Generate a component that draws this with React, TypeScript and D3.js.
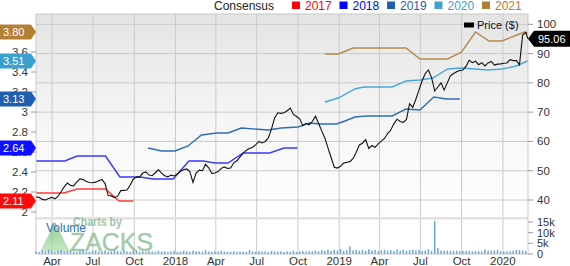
import React from "react";
import * as d3 from "d3";

const W = 570;
const H = 266;

// weekly closing prices starting 2017-02-24
const priceStart = "2017-02-24";
const priceWeekly = [
  41.0, 40.9, 40.2, 40.0, 40.5, 40.9, 40.4, 41.2, 42.8, 44.5,
  45.8, 45.0, 44.8, 46.2, 47.2, 47.0, 46.3, 46.0, 45.9, 46.1,
  46.6, 47.0, 45.6, 41.5, 41.4, 40.8, 41.3, 43.2, 43.3, 43.4,
  45.1, 47.1, 47.9, 47.8, 49.2, 49.6, 48.5, 48.3, 49.3, 50.3,
  49.2, 48.3, 47.9, 48.5, 48.2, 48.9, 49.8, 50.3, 50.6, 49.7,
  46.0, 49.2, 50.2, 50.0, 52.2, 51.0, 49.1, 49.2, 49.7, 50.8,
  51.3, 50.8, 50.9, 52.7, 53.4, 54.7, 56.0, 57.0, 57.6, 58.0,
  58.9, 60.0, 59.5, 60.0, 61.2, 64.2, 68.0, 69.8, 69.6, 69.8,
  70.5, 71.4, 69.2, 68.5, 67.7, 65.4, 66.2, 65.7, 66.8, 68.6,
  66.2, 63.6, 61.2, 57.8, 54.5, 51.2, 50.9, 51.5, 52.6, 52.9,
  53.1, 54.2, 56.3, 58.8, 59.4, 60.6, 57.6, 58.6, 58.0, 59.2,
  60.1, 61.0, 62.7, 63.9, 66.0, 67.6, 66.8, 66.5, 67.5, 72.9,
  71.6, 74.4, 77.6, 80.7, 83.2, 84.4, 81.8, 77.2, 78.6, 80.0,
  77.5, 80.0, 82.4, 83.2, 83.8, 84.2, 84.4, 85.7, 87.7, 86.9,
  87.4, 86.2, 86.9, 85.8, 86.8, 87.3, 86.1, 86.4, 86.5, 86.7,
  86.8, 87.9, 87.6, 87.6, 86.2, 96.3, 97.2,
];
const priceLastDate = "2020-02-26";
const priceLastValue = 95.06;

// weekly volume (thousands), same weeks as prices
const volumeWeekly = [
  1.3, 0.9, 1.6, 1.1, 1.9, 1.2, 0.9, 1.5, 1.8, 1.0,
  1.4, 1.7, 1.1, 1.0, 1.6, 1.9, 1.2, 1.0, 1.5, 1.8,
  1.1, 1.3, 1.7, 1.0, 1.2, 1.9, 1.4, 1.1, 1.6, 1.2,
  1.0, 1.5, 1.8, 1.1, 1.3, 1.0, 1.4, 1.2, 1.0, 1.6,
  1.1, 1.3, 1.0, 1.2, 1.5, 1.0, 1.1, 1.4, 1.2, 1.0,
  1.6, 1.3, 1.1, 1.0, 1.8, 1.2, 1.0, 1.3, 1.1, 1.4,
  1.2, 1.0, 1.1, 1.3, 1.0, 1.2, 1.1, 1.0, 1.9, 1.2,
  1.1, 1.3, 1.0, 1.2, 1.0, 1.4, 1.2, 1.1, 1.3, 1.0,
  1.2, 1.1, 1.5, 1.0, 1.2, 1.3, 1.1, 1.4, 1.2, 1.6,
  1.3, 1.8, 1.5, 2.1, 1.4, 1.9, 1.6, 2.3, 1.5, 1.8,
  3.6, 1.7, 2.0, 1.5, 1.8, 1.4, 2.2, 1.6, 1.9, 1.3,
  1.7, 2.0, 1.5, 1.8, 1.4, 2.2, 1.6, 2.1, 1.5, 1.8,
  2.0, 1.6, 1.9, 1.4, 1.7, 2.3, 1.5, 15.5, 2.8, 1.6,
  1.5, 1.6, 1.4, 1.5, 1.6, 1.3, 1.5, 1.4, 1.3, 1.2,
  1.4, 1.3, 1.2, 2.2, 1.6, 1.5, 1.7, 1.9, 1.3, 1.2,
  1.2, 1.3, 1.5, 2.0, 1.9, 1.6, 1.4,
];

// consensus EPS estimates per fiscal year
const eps2017: [string, number][] = [
  ["2017-02-25", 2.19], ["2017-04-27", 2.19], ["2017-05-27", 2.23],
  ["2017-07-29", 2.23], ["2017-08-28", 2.11], ["2017-09-29", 2.11],
];
const eps2018: [string, number][] = [
  ["2017-02-25", 2.51], ["2017-04-29", 2.51], ["2017-05-27", 2.56],
  ["2017-07-29", 2.56], ["2017-08-30", 2.35], ["2017-10-14", 2.35],
  ["2017-11-12", 2.33], ["2017-12-27", 2.33], ["2018-01-31", 2.51],
  ["2018-03-04", 2.51], ["2018-03-30", 2.49], ["2018-04-28", 2.49],
  ["2018-06-01", 2.59], ["2018-07-30", 2.59], ["2018-08-31", 2.64],
  ["2018-09-30", 2.64],
];
const eps2019: [string, number][] = [
  ["2017-11-01", 2.64], ["2017-12-01", 2.61], ["2017-12-31", 2.61],
  ["2018-01-29", 2.66], ["2018-02-28", 2.77], ["2018-04-03", 2.79],
  ["2018-04-28", 2.79], ["2018-05-28", 2.84], ["2018-07-27", 2.82],
  ["2018-08-25", 2.84], ["2018-10-01", 2.85], ["2018-10-27", 2.89],
  ["2018-11-19", 2.88], ["2018-12-26", 2.88], ["2019-01-14", 2.91],
  ["2019-02-05", 2.95], ["2019-03-03", 2.96], ["2019-04-29", 2.96],
  ["2019-05-30", 3.03], ["2019-06-30", 3.02], ["2019-07-31", 3.15],
  ["2019-08-28", 3.13], ["2019-09-27", 3.13],
];
const eps2020: [string, number][] = [
  ["2018-11-30", 3.10], ["2018-12-30", 3.14], ["2019-02-05", 3.23],
  ["2019-02-24", 3.25], ["2019-04-29", 3.25], ["2019-05-30", 3.31],
  ["2019-06-30", 3.32], ["2019-07-29", 3.34], ["2019-08-31", 3.43],
  ["2019-10-01", 3.44], ["2019-11-28", 3.42], ["2019-12-31", 3.43],
  ["2020-01-31", 3.46], ["2020-02-25", 3.51],
];
const eps2021: [string, number][] = [
  ["2018-11-30", 3.58], ["2018-12-30", 3.58], ["2019-02-01", 3.64],
  ["2019-05-30", 3.64], ["2019-06-30", 3.53], ["2019-08-31", 3.53],
  ["2019-10-01", 3.60], ["2019-11-01", 3.80], ["2019-12-01", 3.71],
  ["2019-12-30", 3.71], ["2020-02-07", 3.78], ["2020-02-18", 3.80],
  ["2020-02-25", 3.79],
];

const legendYears = ["2017", "2018", "2019", "2020", "2021"];
const badgeValues = [3.80, 3.51, 3.13, 2.64, 2.11];
const epsTicks = [2, 2.2, 2.4, 2.6, 2.8, 3, 3.2, 3.4, 3.6, 3.8];
const priceTicks = [40, 50, 60, 70, 80, 90, 100];
const volumeTicks = [0, 5, 10, 15];

const legendColors = ["#ff0000", "#0000ff", "#1f5fab", "#3ea2d4", "#b07d35"];
const lineColors = ["#ff3c3c", "#3a3aff", "#2e6db6", "#4aa8d8", "#b8894c"];
const badgeColors = ["#b57f36", "#3aa0d0", "#1f5fae", "#0d0dff", "#ff0a0a"];

const FONT = "'Liberation Sans', Arial, Helvetica, sans-serif";

export default function App() {
  const parse = d3.timeParse("%Y-%m-%d");
  const left = 36, right = 528, top = 14, priceBottom = 217, volBottom = 254;

  const x = d3.scaleTime()
    .domain([parse("2017-02-24") as Date, parse("2020-02-26") as Date])
    .range([left, right]);
  const yP = d3.scaleLinear().domain([40, 100]).range([200, 24.3]);
  const yE = d3.scaleLinear().domain([2, 3.8]).range([212, 32]);
  const yV = d3.scaleLinear().domain([0, 15]).range([volBottom, 222]);

  const start = parse(priceStart) as Date;
  type P = { d: Date; v: number };
  const priceData: P[] = priceWeekly.map((v, i) => ({ d: d3.timeDay.offset(start, 7 * i), v }));
  priceData.push({ d: parse(priceLastDate) as Date, v: priceLastValue });
  const volData: P[] = volumeWeekly.map((v, i) => ({ d: d3.timeDay.offset(start, 7 * i), v }));

  const priceLine = d3.line<P>().x((p) => x(p.d)).y((p) => yP(p.v));
  const epsLine = d3.line<[string, number]>()
    .x((p) => x(parse(p[0]) as Date))
    .y((p) => yE(p[1]));

  const epsSeries = [eps2017, eps2018, eps2019, eps2020, eps2021];
  const quarterTicks = x.ticks(d3.timeMonth.every(3) as d3.TimeInterval);
  const fmtMonth = d3.timeFormat("%b");
  const fmtYear = d3.timeFormat("%Y");

  const legendX0 = 292;
  const legendStep = 47.5;

  return (
    <svg width={W} height={H} style={{ position: "absolute", left: 0, top: 0, background: "#fff" }}
      fontFamily={FONT}>
      <defs>
        <linearGradient id="plotbg" gradientUnits="userSpaceOnUse" x1={0} y1={top} x2={0} y2={priceBottom}>
          <stop offset="0" stopColor="#e4e4e4" />
          <stop offset="0.55" stopColor="#f6f6f6" />
          <stop offset="1" stopColor="#ffffff" />
        </linearGradient>
        <linearGradient id="tri" x1="0" y1="0" x2="0" y2="1">
          <stop offset="0" stopColor="#4fb34f" />
          <stop offset="1" stopColor="#a6d8a0" />
        </linearGradient>
      </defs>

      {/* plot background */}
      <rect x={left} y={top} width={right - left} height={priceBottom - top} fill="url(#plotbg)" />

      {/* horizontal gridlines (price) */}
      {priceTicks.map((t) => (
        <line key={"hg" + t} x1={left} x2={right} y1={yP(t)} y2={yP(t)} stroke="#cacaca" strokeWidth={1} />
      ))}
      {/* vertical gridlines */}
      {quarterTicks.map((t) => (
        <line key={"vg" + t.getTime()} x1={x(t)} x2={x(t)} y1={top} y2={volBottom} stroke="#cacaca" strokeWidth={1} />
      ))}
      {/* separator between price and volume */}
      <rect x={left} y={priceBottom} width={right - left} height={2.5} fill="#e2e2e2" />

      {/* border */}
      <line x1={left} x2={right} y1={top} y2={top} stroke="#c8c8c8" />
      <line x1={left} x2={left} y1={top} y2={volBottom} stroke="#c8c8c8" />
      <line x1={right} x2={right} y1={top} y2={volBottom} stroke="#c8c8c8" />
      <line x1={left} x2={right} y1={volBottom} y2={volBottom} stroke="#c8c8c8" />

      {/* watermark */}
      <g opacity={0.6}>
        <polygon points="40,252 55,222 70,252" fill="url(#tri)" />
        <text x={73} y={226} fontSize={12.5} fontWeight="bold" fill="#5f9f6c" textLength={49} lengthAdjust="spacingAndGlyphs">Charts by</text>
        <text x={70} y={250.5} fontSize={26} fill="#5a9a68" stroke="#8cc596" strokeWidth={0.6} textLength={83} lengthAdjust="spacingAndGlyphs">ZACKS</text>
      </g>
      <text x={46} y={232} fontSize={12} fill="#2870c2">Volume</text>

      {/* volume bars */}
      {volData.map((p, i) => (
        <rect key={"v" + i} x={x(p.d) - 0.75} y={yV(p.v)} width={1.5} height={volBottom - yV(p.v)} fill="#6aa8dc" />
      ))}

      {/* EPS consensus lines */}
      {epsSeries.map((s, i) => (
        <path key={"e" + i} d={epsLine(s) || ""} fill="none" stroke={lineColors[i]} strokeWidth={1.4} />
      ))}

      {/* price line */}
      <path d={priceLine(priceData) || ""} fill="none" stroke="#111" strokeWidth={1.1} />

      {/* left axis */}
      {epsTicks.map((t) => (
        <g key={"lt" + t}>
          <line x1={31} x2={left} y1={yE(t)} y2={yE(t)} stroke="#999" />
          <text x={28} y={yE(t) + 4} fontSize={11.5} textAnchor="end" fill="#333">{String(+t.toFixed(1))}</text>
        </g>
      ))}
      {/* left badges */}
      {badgeValues.map((v, i) => {
        const cy = yE(v);
        return (
          <g key={"b" + i}>
            <polygon points={`0,${cy - 7.5} 31,${cy - 7.5} 36,${cy} 31,${cy + 7.5} 0,${cy + 7.5}`} fill={badgeColors[i]} />
            <text x={3} y={cy + 4} fontSize={11} fill="#fff">{v.toFixed(2)}</text>
          </g>
        );
      })}

      {/* right axis: price */}
      {priceTicks.map((t) => (
        <g key={"rt" + t}>
          <line x1={right} x2={right + 5} y1={yP(t)} y2={yP(t)} stroke="#999" />
          <text x={537} y={yP(t) + 4} fontSize={11.5} fill="#333">{t}</text>
        </g>
      ))}
      {/* right axis: volume */}
      {volumeTicks.map((t) => (
        <g key={"vt" + t}>
          <line x1={right} x2={right + 5} y1={yV(t)} y2={yV(t)} stroke="#999" />
          <text x={537} y={yV(t) + 4} fontSize={11} fill="#333">{t === 0 ? "0" : t + "k"}</text>
        </g>
      ))}

      {/* price badge */}
      {(() => {
        const cy = yP(priceLastValue);
        return (
          <g>
            <polygon points={`${right},${cy} ${right + 6},${cy - 8} 570,${cy - 8} 570,${cy + 8} ${right + 6},${cy + 8}`} fill="#000" />
            <text x={538} y={cy + 4} fontSize={11} fill="#fff">{priceLastValue.toFixed(2)}</text>
          </g>
        );
      })()}

      {/* x-axis labels */}
      {quarterTicks.map((t) => (
        <text key={"xl" + t.getTime()} x={x(t)} y={265} fontSize={11.5} textAnchor="middle" fill="#333">
          {t.getMonth() === 0 ? fmtYear(t) : fmtMonth(t)}
        </text>
      ))}

      {/* top legend */}
      <text x={214} y={10} fontSize={12} fill="#222">Consensus</text>
      {legendYears.map((yr, i) => (
        <g key={"lg" + yr}>
          <rect x={legendX0 + i * legendStep} y={1.5} width={8} height={7.5} fill={legendColors[i]} />
          <text x={legendX0 + i * legendStep + 13} y={10} fontSize={12} fill={legendColors[i]}>{yr}</text>
        </g>
      ))}

      {/* price legend */}
      <rect x={464} y={22.5} width={10} height={5} fill="#000" />
      <text x={477} y={29} fontSize={11} fill="#111">Price ($)</text>
    </svg>
  );
}
